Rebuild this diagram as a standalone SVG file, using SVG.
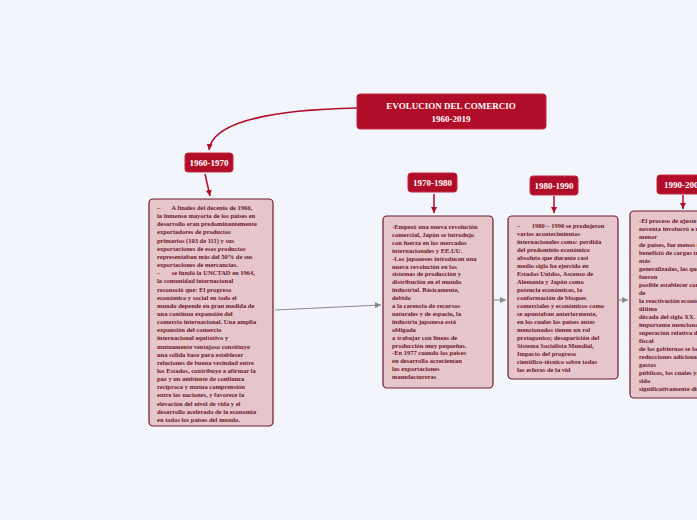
<svg xmlns="http://www.w3.org/2000/svg" width="697" height="520" viewBox="0 0 697 520">
<style>
.h{fill:#b00d28;stroke:#c22a40;stroke-width:1}
.ht{fill:#fff;font-family:"Liberation Serif",serif;font-weight:bold;font-size:9px;text-anchor:middle}
.b{fill:#e6c5cb;stroke:#6e1a2a;stroke-width:1.2}
.t{fill:#6e1a2a;font-family:"Liberation Serif",serif;font-weight:bold;font-size:6.5px}
.c{fill:none;stroke:#888;stroke-width:1}
.r{fill:none;stroke:#b00d28;stroke-width:1.5}
</style>
<defs>
<marker id="ag" markerWidth="8" markerHeight="8" refX="6" refY="3" orient="auto" markerUnits="userSpaceOnUse"><path d="M0,0L6,3L0,6z" fill="#888"/></marker>
<marker id="ar" markerWidth="8" markerHeight="8" refX="6" refY="3" orient="auto" markerUnits="userSpaceOnUse"><path d="M0,0L6,3L0,6z" fill="#b00d28"/></marker>
</defs>
<rect width="697" height="520" fill="#f3f5fd"/>
<g id="connectors">
<path class="r" d="M357,108 C260,110 212,125 209,150" marker-end="url(#ar)"/>
<path class="r" d="M205,174 L210,196" marker-end="url(#ar)"/>
<path class="r" d="M434,194 L434,213" marker-end="url(#ar)"/>
<path class="r" d="M554,196 L554,213" marker-end="url(#ar)"/>
<path class="r" d="M683,195 L683,209" marker-end="url(#ar)"/>
<path class="c" d="M275,310 L381,305" marker-end="url(#ag)"/>
<path class="c" d="M494,300 L506,300" marker-end="url(#ag)"/>
<path class="c" d="M619,300 L628,300" marker-end="url(#ag)"/>
</g>
<g id="main"><rect class="h" x="357" y="94" width="189" height="35" rx="3"/><text class="ht" x="451" y="109">EVOLUCION DEL COMERCIO</text><text class="ht" x="451" y="122">1960-2019</text></g>
<g id="n1960"><rect class="h" x="185" y="153" width="48" height="19" rx="3"/><text class="ht" x="209" y="165.5" font-size="8">1960-1970</text></g>
<g id="n1970"><rect class="h" x="408" y="173" width="49" height="19" rx="3"/><text class="ht" x="432.5" y="185.5">1970-1980</text></g>
<g id="n1980"><rect class="h" x="530" y="176" width="48" height="19" rx="3"/><text class="ht" x="554" y="188.5">1980-1990</text></g>
<g id="n1990"><rect class="h" x="657" y="175" width="50" height="19" rx="3"/><text class="ht" x="664" y="187.5" style="text-anchor:start">1990-2000</text></g>
<g id="d1960"><rect class="b" x="149" y="199" width="124" height="227" rx="4"/>
<text class="t" x="157" y="210" xml:space="preserve"><tspan x="157">–       A finales del decenio de 1960,</tspan><tspan x="157" dy="8.15">la inmensa mayoría de los países en</tspan><tspan x="157" dy="8.15">desarrollo eran predominantemente</tspan><tspan x="157" dy="8.15">exportadores de productos</tspan><tspan x="157" dy="8.15">primarios (103 de 111) y sus</tspan><tspan x="157" dy="8.15">exportaciones de esos productos</tspan><tspan x="157" dy="8.15">representaban más del 50% de sus</tspan><tspan x="157" dy="8.15">exportaciones de mercancías.</tspan><tspan x="157" dy="8.15">–       se fundó la UNCTAD en 1964,</tspan><tspan x="157" dy="8.15">la comunidad internacional</tspan><tspan x="157" dy="8.15">reconoció que: El progreso</tspan><tspan x="157" dy="8.15">económico y social en todo el</tspan><tspan x="157" dy="8.15">mundo depende en gran medida de</tspan><tspan x="157" dy="8.15">una continua expansión del</tspan><tspan x="157" dy="8.15">comercio internacional. Una amplia</tspan><tspan x="157" dy="8.15">expansión del comercio</tspan><tspan x="157" dy="8.15">internacional equitativo y</tspan><tspan x="157" dy="8.15">mutuamente ventajoso constituye</tspan><tspan x="157" dy="8.15">una sólida base para establecer</tspan><tspan x="157" dy="8.15">relaciones de buena vecindad entre</tspan><tspan x="157" dy="8.15">los Estados, contribuye a afirmar la</tspan><tspan x="157" dy="8.15">paz y un ambiente de confianza</tspan><tspan x="157" dy="8.15">recíproca y mutua comprensión</tspan><tspan x="157" dy="8.15">entre las naciones, y favorece la</tspan><tspan x="157" dy="8.15">elevación del nivel de vida y el</tspan><tspan x="157" dy="8.15">desarrollo acelerado de la economía</tspan><tspan x="157" dy="8.15">en todos los países del mundo.</tspan></text></g>
<g id="d1970"><rect class="b" x="383" y="216" width="110" height="172" rx="4"/>
<text class="t" x="392" y="229"><tspan x="392">-Empezó una nueva revolución</tspan><tspan x="392" dy="7.9">comercial, Japón se introdujo</tspan><tspan x="392" dy="7.9">con fuerza en los mercados</tspan><tspan x="392" dy="7.9">internacionales y EE.UU.</tspan><tspan x="392" dy="7.9">-Los japoneses introducen una</tspan><tspan x="392" dy="7.9">nueva revolución en los</tspan><tspan x="392" dy="7.9">sistemas de producción y</tspan><tspan x="392" dy="7.9">distribución en el mundo</tspan><tspan x="392" dy="7.9">industrial. Básicamente,</tspan><tspan x="392" dy="7.9">debido</tspan><tspan x="392" dy="7.9">a la carencia de recursos</tspan><tspan x="392" dy="7.9">naturales y de espacio, la</tspan><tspan x="392" dy="7.9">industria japonesa está</tspan><tspan x="392" dy="7.9">obligada</tspan><tspan x="392" dy="7.9">a trabajar con líneas de</tspan><tspan x="392" dy="7.9">producción muy pequeñas.</tspan><tspan x="392" dy="7.9">-En 1977 cuando los países</tspan><tspan x="392" dy="7.9">en desarrollo acrecientan</tspan><tspan x="392" dy="7.9">las exportaciones</tspan><tspan x="392" dy="7.9">manufactureras</tspan></text></g>
<g id="d1980"><rect class="b" x="508" y="216" width="110" height="163" rx="4"/>
<text class="t" x="517" y="228" xml:space="preserve"><tspan x="517">–       1980 – 1990 se produjeron</tspan><tspan x="517" dy="8">varios acontecimientos</tspan><tspan x="517" dy="8">internacionales como: perdida</tspan><tspan x="517" dy="8">del predominio económico</tspan><tspan x="517" dy="8">absoluto que durante casi</tspan><tspan x="517" dy="8">medio siglo ha ejercido en</tspan><tspan x="517" dy="8">Estados Unidos, Ascenso de</tspan><tspan x="517" dy="8">Alemania y Japón como</tspan><tspan x="517" dy="8">potencia económicas, la</tspan><tspan x="517" dy="8">conformación de bloques</tspan><tspan x="517" dy="8">comerciales y económicos como</tspan><tspan x="517" dy="8">se apuntaban anteriormente,</tspan><tspan x="517" dy="8">en los cuales los países antes</tspan><tspan x="517" dy="8">mencionados tienen un rol</tspan><tspan x="517" dy="8">protagonico; desaparición del</tspan><tspan x="517" dy="8">Sistema Socialista Mundial,</tspan><tspan x="517" dy="8">Impacto del progreso</tspan><tspan x="517" dy="8">científico-técnico sobre todas</tspan><tspan x="517" dy="8">las esferas de la vid</tspan></text></g>
<g id="d1990"><rect class="b" x="630" y="211" width="90" height="187" rx="4"/>
<text class="t" x="639" y="223"><tspan x="639">-El proceso de ajuste de los</tspan><tspan x="639" dy="8">noventa involucró a un número</tspan><tspan x="639" dy="8">menor</tspan><tspan x="639" dy="8">de países, fue menos severo y se</tspan><tspan x="639" dy="8">benefició de cargas tributarias</tspan><tspan x="639" dy="8">más</tspan><tspan x="639" dy="8">generalizadas, las que</tspan><tspan x="639" dy="8">fueron</tspan><tspan x="639" dy="8">posible establecer con ayuda</tspan><tspan x="639" dy="8">de</tspan><tspan x="639" dy="8">la reactivación económica de la</tspan><tspan x="639" dy="8">última</tspan><tspan x="639" dy="8">década del siglo XX. La</tspan><tspan x="639" dy="8">importante mencionada</tspan><tspan x="639" dy="8">superación relativa del déficit</tspan><tspan x="639" dy="8">fiscal</tspan><tspan x="639" dy="8">de los gobiernos se logró con</tspan><tspan x="639" dy="8">reducciones adicionales de</tspan><tspan x="639" dy="8">gastos</tspan><tspan x="639" dy="8">públicos, los cuales ya habían</tspan><tspan x="639" dy="8">sido</tspan><tspan x="639" dy="8">significativamente disminuidos</tspan></text></g>
</svg>
